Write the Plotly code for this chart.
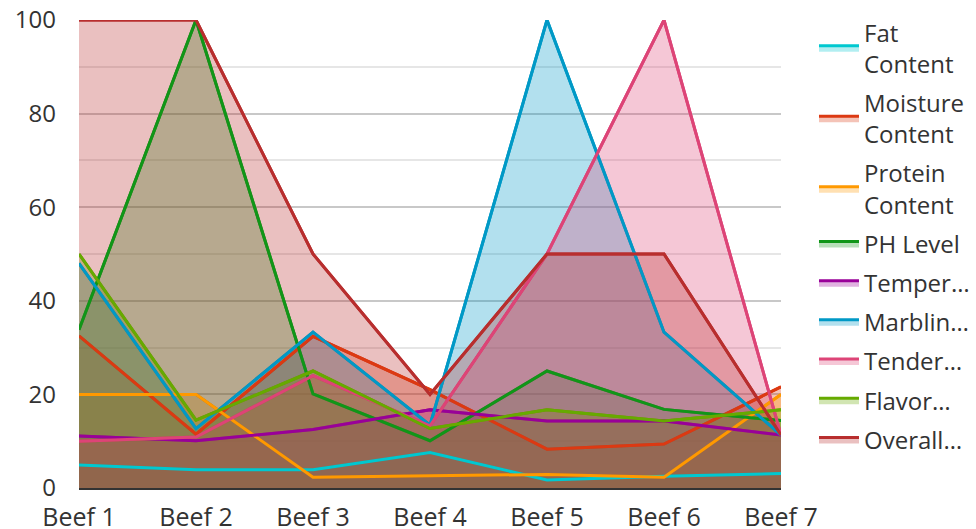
import plotly.graph_objects as go

categories = ["Beef 1", "Beef 2", "Beef 3", "Beef 4", "Beef 5", "Beef 6", "Beef 7"]

fat_content = [4.9, 3.9, 3.9, 7.6, 1.7, 2.5, 3.1]
moisture_content = [32.5, 11.5, 32.4, 21.0, 8.3, 9.4, 21.6]
protein_content = [20.0, 20.0, 2.3, 2.6, 2.9, 2.3, 20.0]
ph_level = [33.8, 100.0, 20.1, 10.1, 25.0, 16.8, 14.4]
temperature = [11.1, 10.1, 12.5, 16.7, 14.3, 14.3, 11.3]
marbling = [48.0, 12.7, 33.3, 13.4, 100.0, 33.3, 11.3]
tenderness = [10.0, 10.9, 24.0, 13.3, 50.0, 100.0, 11.3]
flavor = [50.0, 14.5, 25.0, 12.7, 16.7, 14.3, 16.7]
overall = [100.0, 100.0, 50.0, 20.0, 50.0, 50.0, 11.3]

series_names = ["Fat<br>Content", "Moisture<br>Content", "Protein<br>Content", "PH Level",
                "Temper…", "Marblin…", "Tender…", "Flavor…", "Overall…"]
series_values = [fat_content, moisture_content, protein_content, ph_level, temperature,
                 marbling, tenderness, flavor, overall]
colors = ["#00c8d0", "#dc3912", "#ff9900", "#109618", "#990099",
          "#0099c6", "#dd4477", "#66aa00", "#b82e2e"]


def rgba(hex_color, a):
    h = hex_color.lstrip("#")
    r, g, b = int(h[0:2], 16), int(h[2:4], 16), int(h[4:6], 16)
    return f"rgba({r},{g},{b},{a})"


fig = go.Figure()
# filled areas (with legend entries)
for i, (name, vals, c) in enumerate(zip(series_names, series_values, colors)):
    fig.add_trace(go.Scatter(
        x=categories, y=vals, name=name, mode="lines",
        line=dict(color=c, width=3),
        fill="tozeroy", fillcolor=rgba(c, 0.3),
        legendgroup=f"g{i}", hoverinfo="skip",
    ))
# lines on top of all fills
for i, (name, vals, c) in enumerate(zip(series_names, series_values, colors)):
    fig.add_trace(go.Scatter(
        x=categories, y=vals, name=name, mode="lines",
        line=dict(color=c, width=3),
        legendgroup=f"g{i}", showlegend=False,
    ))

font_family = "Open Sans, Noto Sans, sans-serif"
fig.update_layout(
    width=976, height=529,
    margin=dict(l=79, r=195, t=20, b=41, autoexpand=False),
    paper_bgcolor="white", plot_bgcolor="white",
    font=dict(family=font_family, size=24, color="#333333"),
    showlegend=True,
    legend=dict(
        x=1.047, y=1.021, xanchor="left", yanchor="top",
        font=dict(size=24, color="#333333"),
        tracegroupgap=5, itemwidth=40, maxheight=529,
        bgcolor="rgba(0,0,0,0)",
    ),
    xaxis=dict(
        type="category", range=[0, 6], automargin=False,
        showgrid=False, showline=True, linecolor="#333333", linewidth=2,
        ticks="", tickfont=dict(size=25, color="#333333"),
        ticklabelstandoff=6,
        fixedrange=True,
    ),
    yaxis=dict(
        range=[0, 100], dtick=20, tick0=0, automargin=False,
        showgrid=True, gridcolor="#c8c8c8", gridwidth=1.5,
        zeroline=False, showline=False,
        ticks="", tickfont=dict(size=24, color="#333333"),
        ticklabelstandoff=22,
        minor=dict(dtick=10, showgrid=True, gridcolor="#e6e6e6", gridwidth=1.5),
    ),
)

fig.write_html(
    "out.html",
    config={"displayModeBar": False},
    post_script="document.body.style.margin='0';document.body.style.overflow='hidden';",
)
